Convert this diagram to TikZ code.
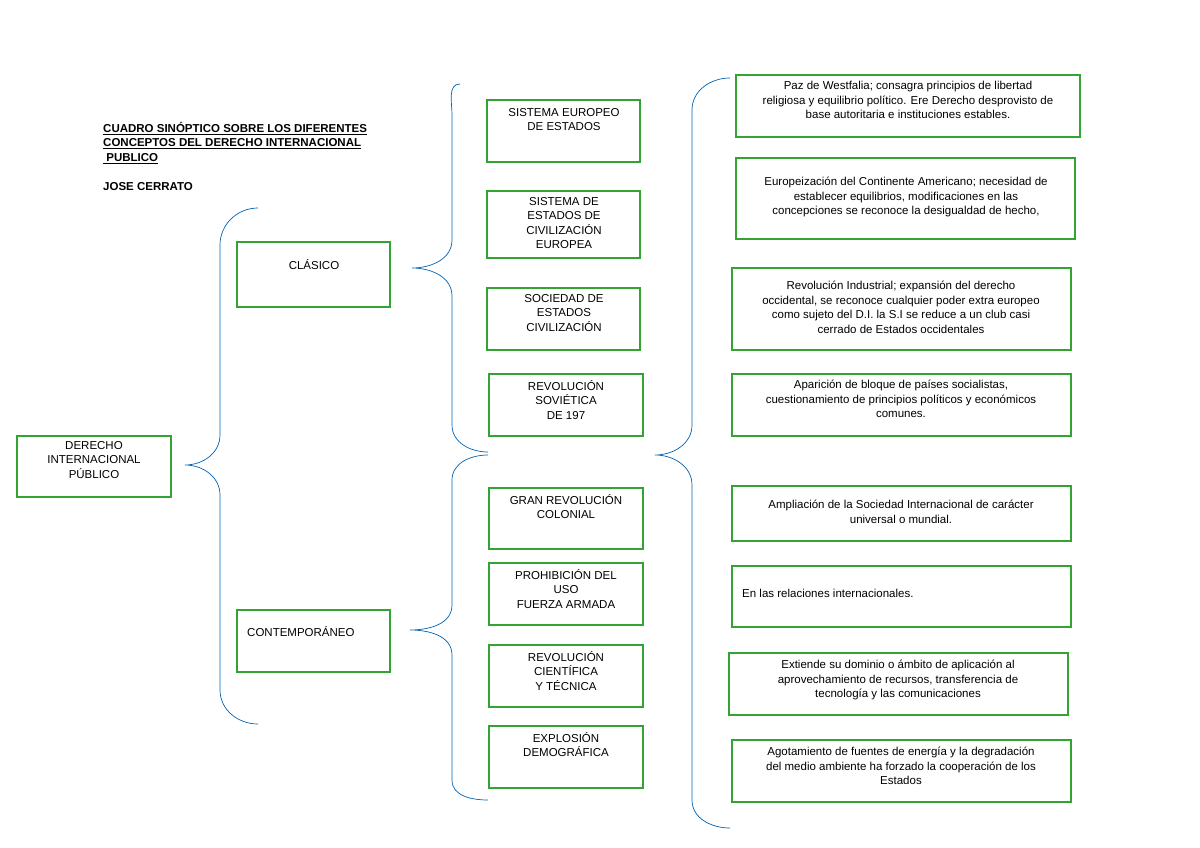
\documentclass[tikz,border=0pt]{standalone}
\usepackage{fontspec}
\setmainfont{Liberation Sans}
\begin{document}
\begin{tikzpicture}[x=1pt,y=-1pt,
  box/.style={draw=green!55!black!80,line width=1.3pt,inner sep=0pt},
  txt/.style={anchor=north,align=center,font=\fontsize{11.5}{14.5}\selectfont,inner sep=0pt},
  brace/.style={draw=blue!45!cyan!70!black,line width=0.7pt}]
\useasboundingbox (0,0) rectangle (1200,848);
\def\bx#1#2#3#4#5{\node[box,minimum width=#4-#2,minimum height=#5-#3] (#1) at ({(#2+#4)/2},{(#3+#5)/2}) {};}
\bx{dip}{17}{436}{171}{497}
\bx{cla}{237}{242}{390}{307}
\bx{con}{237}{610}{390}{672}
\bx{m1}{487}{100}{640}{162}
\bx{m2}{487}{191}{640}{258}
\bx{m3}{487}{288}{640}{350}
\bx{m4}{489}{374}{643}{436}
\bx{m5}{489}{488}{643}{549}
\bx{m6}{489}{563}{643}{625}
\bx{m7}{489}{645}{643}{707}
\bx{m8}{489}{726}{643}{788}
\bx{r1}{736}{75}{1080}{137}
\bx{r2}{736}{158}{1075}{239}
\bx{r3}{732}{268}{1071}{350}
\bx{r4}{732}{374}{1071}{436}
\bx{r5}{732}{486}{1071}{541}
\bx{r6}{732}{566}{1071}{627}
\bx{r7}{729}{653}{1068}{715}
\bx{r8}{732}{740}{1071}{802}
\node[txt] (tdip) at (94,441) {DERECHO\\INTERNACIONAL\\PÚBLICO};
\node[txt] (tcla) at (314,259) {CLÁSICO};
\node[txt,anchor=north west] (tcon) at (247,626) {CONTEMPORÁNEO};
\node[txt] (t1) at (564,108) {SISTEMA EUROPEO\\DE ESTADOS};
\node[txt] (t2) at (564,197) {SISTEMA DE\\ESTADOS DE\\CIVILIZACIÓN\\EUROPEA};
\node[txt] (t3) at (564,294) {SOCIEDAD DE\\ESTADOS\\CIVILIZACIÓN};
\node[txt] (t4) at (566,380) {REVOLUCIÓN\\SOVIÉTICA\\DE 197};
\node[txt] (t5) at (566,494) {GRAN REVOLUCIÓN\\COLONIAL};
\node[txt] (t6) at (566,569) {PROHIBICIÓN DEL\\USO\\FUERZA ARMADA};
\node[txt] (t7) at (566,651) {REVOLUCIÓN\\CIENTÍFICA\\Y TÉCNICA};
\node[txt] (t8) at (566,732) {EXPLOSIÓN\\DEMOGRÁFICA};
\node[txt] (s1) at (908,81) {Paz de Westfalia; consagra principios de libertad\\religiosa y equilibrio político. Ere Derecho desprovisto de\\base autoritaria e instituciones estables.};
\node[txt] (s2) at (906,177) {Europeización del Continente Americano; necesidad de\\establecer equilibrios, modificaciones en las\\concepciones se reconoce la desigualdad de hecho,};
\node[txt] (s3) at (901,281) {Revolución Industrial; expansión del derecho\\occidental, se reconoce cualquier poder extra europeo\\como sujeto del D.I. la S.I se reduce a un club casi\\cerrado de Estados occidentales};
\node[txt] (s4) at (901,380) {Aparición de bloque de países socialistas,\\cuestionamiento de principios políticos y económicos\\comunes.};
\node[txt] (s5) at (901,500) {Ampliación de la Sociedad Internacional de carácter\\universal o mundial.};
\node[txt,anchor=north west] (s6) at (742,589) {En las relaciones internacionales.};
\node[txt] (s7) at (898,660) {Extiende su dominio o ámbito de aplicación al\\aprovechamiento de recursos, transferencia de\\tecnología y las comunicaciones};
\node[txt] (s8) at (901,747) {Agotamiento de fuentes de energía y la degradación\\del medio ambiente ha forzado la cooperación de los\\Estados};
\node[txt,anchor=north west,align=left,font=\bfseries\fontsize{11.5}{14.5}\selectfont] (title) at (103,122)
 {\underline{CUADRO SINÓPTICO SOBRE LOS DIFERENTES}\\\underline{CONCEPTOS DEL DERECHO INTERNACIONAL}\\\underline{ PUBLICO}};
\node[txt,anchor=north west,font=\bfseries\fontsize{11.5}{14.5}\selectfont] (author) at (103,182) {JOSE CERRATO};
% braces
\draw[brace] (258,208) to[out=180,in=90] (220,245) -- (220,435) to[out=270,in=0] (185,465)
  to[out=0,in=90] (220,495) -- (220,690) to[out=270,in=180] (258,724);
\draw[brace] (460,84) to[out=180,in=90] (452,115) -- (452,240) to[out=270,in=0] (412,268)
  to[out=0,in=90] (452,296) -- (452,425) to[out=270,in=180] (488,452);
\draw[brace] (488,455) to[out=180,in=90] (452,480) -- (452,605) to[out=270,in=0] (410,630)
  to[out=0,in=90] (452,655) -- (452,780) to[out=270,in=180] (488,800);
\draw[brace] (730,78) to[out=180,in=90] (692,110) -- (692,425) to[out=270,in=0] (655,455)
  to[out=0,in=90] (692,485) -- (692,800) to[out=270,in=180] (730,828);
\end{tikzpicture}
\end{document}
